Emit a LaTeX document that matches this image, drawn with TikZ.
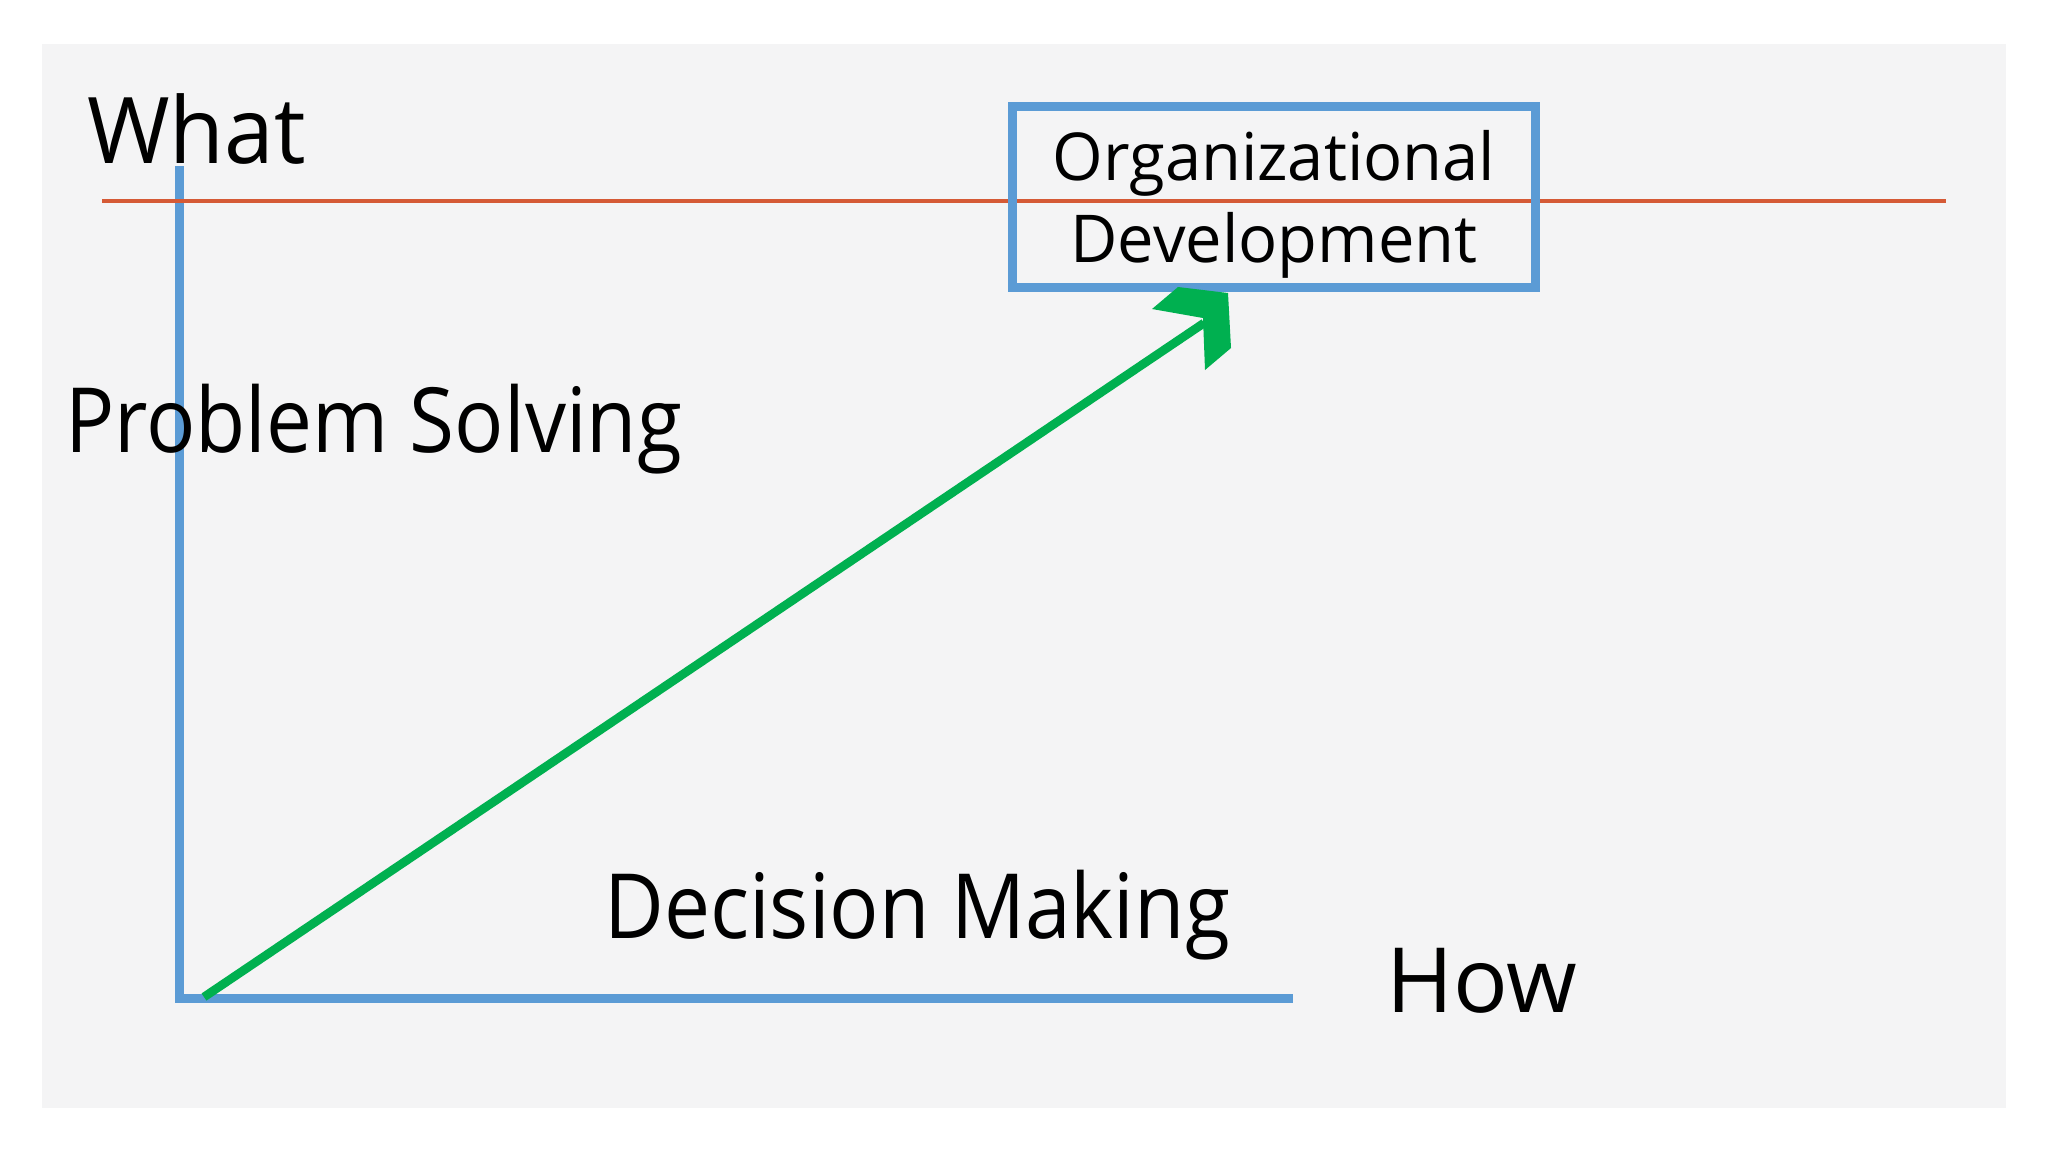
\documentclass[tikz,border=0pt]{standalone}
\usepackage{fontspec}
\setmainfont{Open Sans}
\definecolor{axisblue}{HTML}{5B9BD5}
\definecolor{redline}{HTML}{D55A36}
\definecolor{arrowgreen}{HTML}{00B050}
\definecolor{panel}{HTML}{F4F4F5}
\tikzset{
  axis/.style={draw=axisblue, line width=9pt},
  odbox/.style={draw=axisblue, line width=9pt, minimum width=523pt, minimum height=181pt, inner sep=0pt},
  bigtext/.style={font=\fontsize{92}{110}\selectfont, inner sep=0pt, anchor=base west},
  midtext/.style={font=\fontsize{90}{108}\selectfont, inner sep=0pt, anchor=base west},
  boxtext/.style={font=\fontsize{66}{82}\selectfont, inner sep=0pt, anchor=base},
  greenline/.style={draw=arrowgreen, line width=8.7pt},
}
\begin{document}
\begin{tikzpicture}[x=1pt,y=-1pt]
\useasboundingbox (0,0) rectangle (2048,1152);
\fill[white] (0,0) rectangle (2048,1152);
\fill[panel] (42,44) rectangle (2006,1108);
% axes
\coordinate (ytop) at (179,166);
\coordinate (orig) at (179,998);
\coordinate (xend) at (1293,998);
\draw[axis] (ytop) -- (179,1002);
\draw[axis] (175,998) -- (xend);
% red line
\coordinate (rl) at (102,201);
\coordinate (rr) at (1946,201);
\draw[redline, line width=3.5pt] (rl) -- (rr);
% box
\node[odbox] (od) at (1273.5,196.5) {};
\node[boxtext] (odt1) at (1274,180) {\scalebox{0.985}[1]{Organizational}};
\node[boxtext] (odt2) at (1274,262) {\scalebox{0.985}[1]{Development}};
% green arrow
\coordinate (gs) at (204,997);
\coordinate (ge) at (1204,323);
\draw[greenline] (gs) -- (ge);
\fill[arrowgreen] (1152,309) -- (1178,287) -- (1228,293) -- (1231,348) -- (1205,370) -- (1203,318) -- cycle;
% labels
\node[bigtext] (what) at (87,163) {\scalebox{0.97}[1]{What}};
\node[midtext] (ps) at (65,452) {\scalebox{0.91}[1]{Problem Solving}};
\node[midtext] (dm) at (604,938) {\scalebox{0.912}[1]{Decision Making}};
\node[midtext] (how) at (1386,1012) {\scalebox{1.01}[1]{How}};
\end{tikzpicture}
\end{document}
